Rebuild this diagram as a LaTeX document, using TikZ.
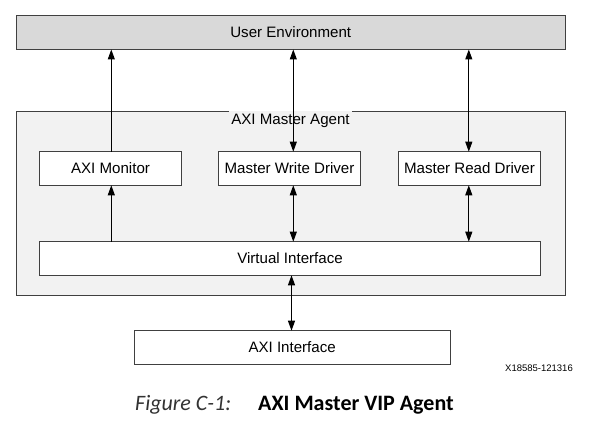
\documentclass[tikz,border=0pt]{standalone}
\usepackage{fontspec}
\setmainfont{Liberation Sans}
\newfontfamily\capfont{Carlito}
\usetikzlibrary{arrows.meta,calc}
\definecolor{boxline}{HTML}{404040}
\definecolor{uefill}{HTML}{D9D9D9}
\definecolor{agfill}{HTML}{F2F2F2}
\tikzset{
  x=1pt, y=-1pt,
  blk/.style={draw=boxline, line width=1pt, inner sep=0pt, outer sep=0pt, anchor=north west,
    font=\fontsize{15.1}{18}\selectfont, text=black},
  wbox/.style={blk, fill=white},
  arr/.style={line width=1pt, -{Triangle[length=10pt,width=7pt]}},
  darr/.style={line width=1pt, {Triangle[length=10pt,width=7pt]}-{Triangle[length=10pt,width=7pt]}},
}
\begin{document}
\begin{tikzpicture}
\useasboundingbox[fill=white] (0,0) rectangle (598,425);
\node[blk, fill=uefill, minimum width=549.5pt, minimum height=34pt] (ue) at (16,15.5) {User Environment};
\node[blk, fill=agfill, minimum width=549.5pt, minimum height=184.3pt] (ag) at (16,111.7) {};
\node[fill=agfill, inner sep=0pt, inner xsep=2pt, outer sep=0pt, anchor=base, text height=14pt, text depth=3pt,
  font=\fontsize{15.1}{18}\selectfont] (agt) at (290.5,125) {AXI Master Agent};
\node[wbox, minimum width=142.4pt, minimum height=33.6pt] (mon) at (39.3,151.7) {AXI Monitor};
\node[wbox, minimum width=142.4pt, minimum height=33.6pt] (wr) at (218.3,151.7) {Master Write Driver};
\node[wbox, minimum width=142.4pt, minimum height=33.6pt] (rd) at (398.3,151.7) {Master Read Driver};
\node[wbox, minimum width=501.4pt, minimum height=33.6pt] (vi) at (39.3,241.7) {Virtual Interface};
\node[wbox, minimum width=315.7pt, minimum height=33.3pt] (axi) at (134.3,330.7) {AXI Interface};
\node[anchor=base east, inner sep=0pt, font=\fontsize{9.5}{11}\selectfont] (id) at (573,371) {X18585-121316};
\node[anchor=base west, inner sep=0pt, font=\capfont\itshape\fontsize{22}{26}\selectfont, text=black!80] (fig) at (135,410) {Figure C-1:};
\node[anchor=base west, inner sep=0pt, font=\capfont\bfseries\fontsize{22}{26}\selectfont] (cap) at (258,410) {AXI Master VIP Agent};
% connectors
\draw[arr] ([xshift=0.8pt]mon.north) -- ([xshift=0.8pt]mon.north |- ue.south);
\draw[arr] ([xshift=0.8pt]mon.south |- vi.north) -- ([xshift=0.8pt]mon.south);
\draw[darr] ([xshift=3.8pt]wr.north |- ue.south) -- ([xshift=3.8pt]wr.north);
\draw[darr] ([xshift=3.8pt]wr.south) -- ([xshift=3.8pt]wr.south |- vi.north);
\draw[darr] ([xshift=-0.7pt]rd.north |- ue.south) -- ([xshift=-0.7pt]rd.north);
\draw[darr] ([xshift=-0.7pt]rd.south) -- ([xshift=-0.7pt]rd.south |- vi.north);
\draw[darr] ([xshift=1.5pt]vi.south) -- ([xshift=1.5pt]vi.south |- axi.north);
\end{tikzpicture}
\end{document}
